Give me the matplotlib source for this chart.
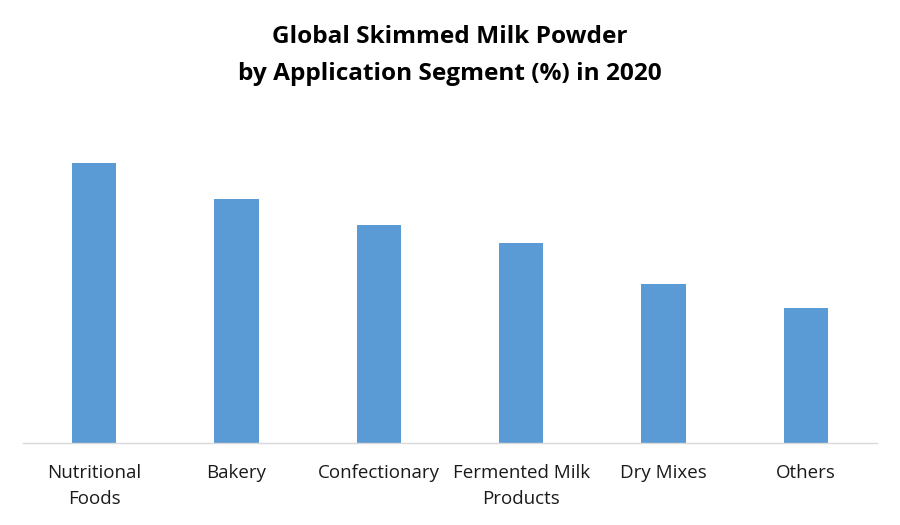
import matplotlib
matplotlib.use("Agg")
import matplotlib.pyplot as plt

categories = ["Nutritional\nFoods", "Bakery", "Confectionary", "Fermented Milk\nProducts", "Dry Mixes", "Others"]
values = [28.0, 24.4, 21.8, 20.0, 15.9, 13.5]

plt.rcParams['font.family'] = ['Open Sans', 'DejaVu Sans']

fig = plt.figure(figsize=(9, 5.25), dpi=100)
ax = fig.add_axes([23/900, 82/525, 854/900, 318/525])
ax.bar(range(len(categories)), values, width=0.31, color="#5B9BD5")
ax.set_xlim(-0.5, len(categories) - 0.5)
ax.set_ylim(0, 31.8)
ax.set_xticks(range(len(categories)))
ax.set_xticklabels(categories, fontsize=13.5, color="#1a1a1a", linespacing=1.58)
ax.tick_params(axis='x', length=0, pad=15)
ax.set_yticks([])
for s in ['top', 'right', 'left']:
    ax.spines[s].set_visible(False)
ax.spines['bottom'].set_color("#D9D9D9")
ax.spines['bottom'].set_linewidth(1)

fig.text(0.5, 1 - 55.5/525, "Global Skimmed Milk Powder\nby Application Segment (%) in 2020",
         ha='center', va='center', fontsize=17.6, fontweight='bold', color='black', linespacing=1.7)

fig.savefig("out.png", dpi=100)
